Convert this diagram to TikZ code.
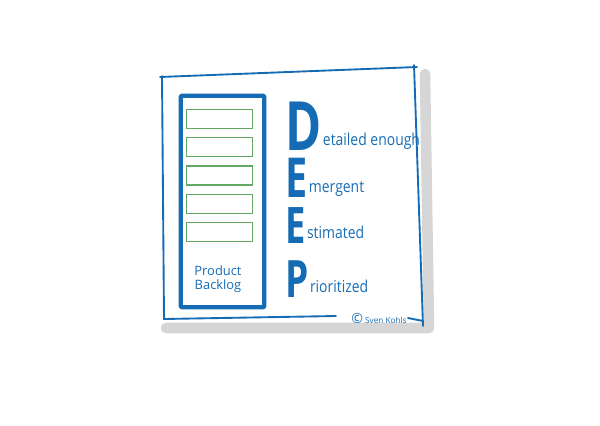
\documentclass[tikz,border=0pt]{standalone}
\usepackage{fontspec}
\setmainfont{Open Sans}
\usetikzlibrary{positioning}
\definecolor{deepblue}{RGB}{22,108,180}
\definecolor{itemgreen}{RGB}{98,170,100}
\definecolor{shadowgray}{RGB}{214,214,214}
\tikzset{
  frameline/.style={draw=deepblue, line width=1.6pt, line cap=round},
  shadowline/.style={draw=shadowgray, line width=9pt, line cap=round},
  backlogbox/.style={draw=deepblue, line width=3.6pt, rounded corners=1pt,
    minimum width=2.5cm, minimum height=6.35cm},
  itembox/.style={draw=itemgreen, line width=1.1pt,
    minimum width=2.0cm, minimum height=0.57cm},
  bigletter/.style={text=deepblue, inner sep=0pt, anchor=base west, xscale=0.72,
    font=\fontsize{#1}{#1}\selectfont\bfseries},
  wordtext/.style={text=deepblue, inner sep=0pt, xscale=0.85,
    font=\fontsize{14}{15}\selectfont},
  smalltext/.style={text=deepblue, inner sep=0pt, align=center,
    font=\fontsize{11}{12}\selectfont}
}
\begin{document}
\begin{tikzpicture}[x=0.03cm, y=-0.03cm]
  \useasboundingbox (0,0) rectangle (600,425);
  \draw[shadowline] (166,328) -- (428,328) (425,74) -- (429,328);
  \draw[frameline] (160,77) -- (417,67)
    (162,76) -- (164,319) -- (336,316)
    (414,65) -- (423,326) (408,318) -- (423,321);
  \node[name=backlog, backlogbox] at (222.5,201.5) {};
  \foreach \i in {0,...,4}
    \node[name=item\i, itembox] at (219.5,119+28.3*\i) {};
  \node[name=label, smalltext] at (218,279) {Product\\Backlog};
  \foreach \letter/\word/\base/\size [count=\i] in
    { D/etailed enough/150/58, E/mergent/197/47,
      E/stimated/243/43, P/rioritized/297/44}
  {
    \node[name=letter\i, bigletter=\size] at (285,\base) {\letter};
    \node[name=word\i, wordtext, right=1pt of letter\i.base east,
      anchor=base west, yshift=4pt] {\word};
  }
  \node[name=credit, smalltext, font=\fontsize{7}{8}\selectfont]
    at (379,318) {{\large©} Sven Kohls};
\end{tikzpicture}
\end{document}
